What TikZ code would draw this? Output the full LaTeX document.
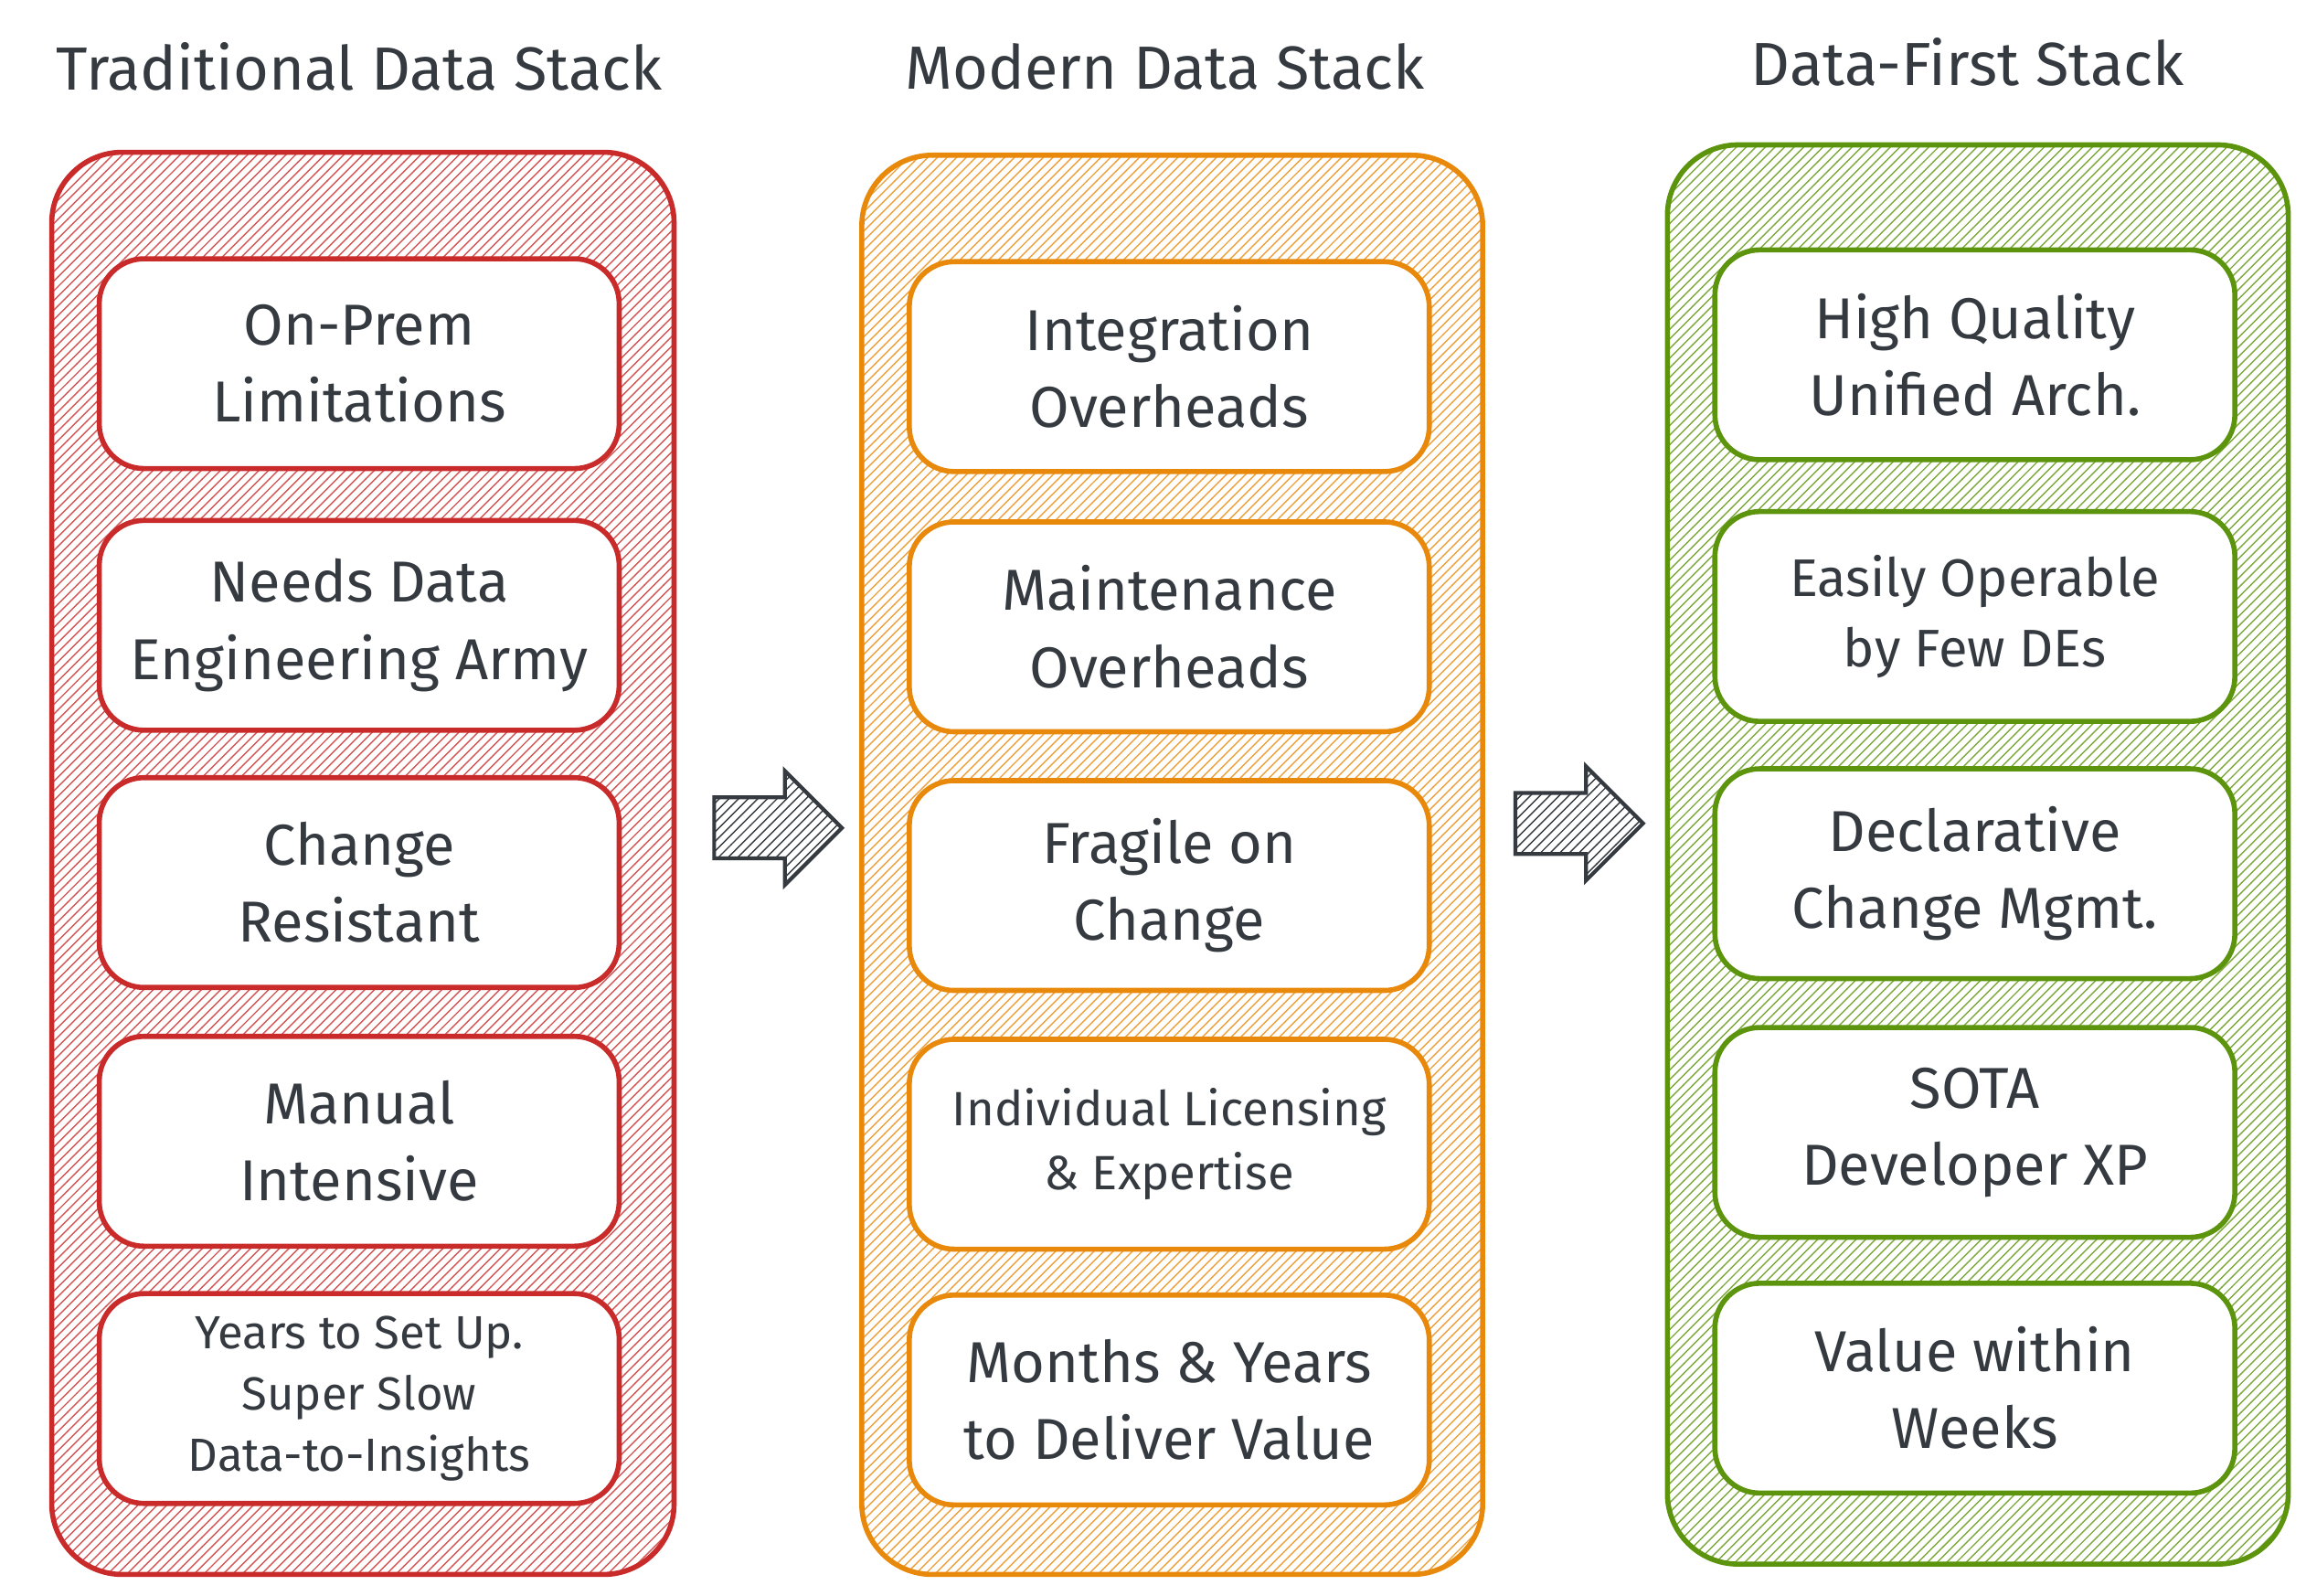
\documentclass[tikz,border=0pt]{standalone}
\usepackage{fontspec}
\setmainfont{Fira Sans}
\usetikzlibrary{patterns,shapes.arrows}
\definecolor{stackred}{HTML}{C92A2A}
\definecolor{stackorange}{HTML}{E8890C}
\definecolor{stackgreen}{HTML}{5C940D}
\definecolor{ink}{HTML}{343A40}
\begin{document}
\begin{tikzpicture}[x=0.0162cm, y=-0.0162cm,
  column/.style = {draw=#1, line width=1.6pt, rounded corners=22pt,
    pattern=north east lines, pattern color=#1!80},
  item/.style = {draw=#1, line width=1.6pt, rounded corners=14pt, fill=white,
    minimum width=5.7cm, minimum height=2.3cm, align=center,
    font=\fontsize{18}{24}\selectfont, text=ink},
  title/.style = {font=\fontsize{19}{24}\selectfont, text=ink},
  shiftarrow/.style = {single arrow, draw=ink, line width=1.2pt, pattern=north east lines,
    pattern color=ink, minimum width=1.25cm, minimum height=1.4cm,
    single arrow head extend=0.12cm}]
\useasboundingbox (0,0) rectangle (1560,1079);
% column titles
\node[title] (tradTitle) at (243,45) {Traditional Data Stack};
\node[title] (modTitle) at (788,45) {Modern Data Stack};
\node[title] (firstTitle) at (1331,42) {Data-First Stack};
% frames
\draw[column=stackred] (35,103) rectangle (456,1065);
\draw[column=stackorange] (583,105) rectangle (1003,1065);
\draw[column=stackgreen] (1128,98) rectangle (1548,1058);
% traditional
\node[item=stackred] (trad1) at (243,246) {On-Prem\\Limitations};
\node[item=stackred] (trad2) at (243,423) {Needs Data\\Engineering Army};
\node[item=stackred] (trad3) at (243,597) {Change\\Resistant};
\node[item=stackred] (trad4) at (243,772) {Manual\\Intensive};
\node[item=stackred, font=\fontsize{14.5}{19}\selectfont] (trad5) at (243,946) {Years to Set Up.\\Super Slow\\Data-to-Insights};
% modern
\node[item=stackorange] (mod1) at (791,248) {Integration\\Overheads};
\node[item=stackorange] (mod2) at (791,424) {Maintenance\\Overheads};
\node[item=stackorange] (mod3) at (791,599) {Fragile on\\Change};
\node[item=stackorange, font=\fontsize{15}{20}\selectfont] (mod4) at (791,774) {Individual Licensing\\\& Expertise};
\node[item=stackorange] (mod5) at (791,947) {Months \& Years\\to Deliver Value};
% data-first
\node[item=stackgreen] (first1) at (1336,240) {High Quality\\Unified Arch.};
\node[item=stackgreen, font=\fontsize{16.5}{22}\selectfont] (first2) at (1336,417) {Easily Operable\\by Few DEs};
\node[item=stackgreen] (first3) at (1336,591) {Declarative\\Change Mgmt.};
\node[item=stackgreen] (first4) at (1336,766) {SOTA\\Developer XP};
\node[item=stackgreen] (first5) at (1336,939) {Value within\\Weeks};
% transitions
\node[shiftarrow] (shift1) at (516,560) {};
\node[shiftarrow] (shift2) at (1058,557) {};
\end{tikzpicture}
\end{document}
